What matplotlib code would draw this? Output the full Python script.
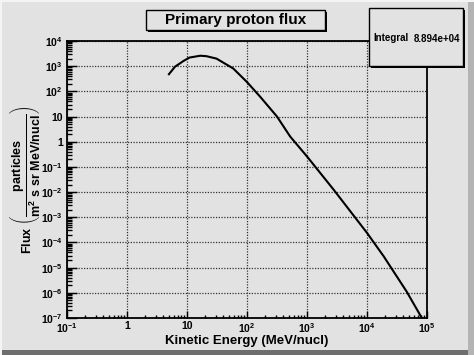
import matplotlib
matplotlib.use("Agg")
import matplotlib.pyplot as plt
from matplotlib.patches import Rectangle
from matplotlib.ticker import LogLocator, FixedLocator, NullFormatter

plt.rcParams['font.family'] = ['Liberation Sans', 'DejaVu Sans']
plt.rcParams['font.weight'] = 'bold'
plt.rcParams['mathtext.fontset'] = 'custom'
plt.rcParams['mathtext.rm'] = 'Liberation Sans:bold'
plt.rcParams['mathtext.bf'] = 'Liberation Sans:bold'
plt.rcParams['mathtext.it'] = 'Liberation Sans:bold'
plt.rcParams['mathtext.sf'] = 'Liberation Sans:bold'
plt.rcParams['mathtext.default'] = 'bf'

# data
energy = [5.0, 6.3, 8.7, 11, 16.6, 21, 31, 59, 99, 165, 316, 525, 1000, 2770,
          1.0e4, 1.9e4, 4.6e4, 8.2e4]
flux = [480, 950, 1600, 2200, 2600, 2500, 2000, 810, 240, 62, 10, 1.6, 0.26,
        0.0126, 2.4e-4, 2.8e-5, 1.1e-6, 1.0e-7]

x_ticks = [1e-1, 1, 10, 1e2, 1e3, 1e4, 1e5]
x_labels = ['10$^{-1}$', '1', '10', '10$^{2}$', '10$^{3}$', '10$^{4}$', '10$^{5}$']
y_ticks = [1e-7, 1e-6, 1e-5, 1e-4, 1e-3, 1e-2, 1e-1, 1, 10, 1e2, 1e3, 1e4]
y_labels = ['10$^{-7}$', '10$^{-6}$', '10$^{-5}$', '10$^{-4}$', '10$^{-3}$',
            '10$^{-2}$', '10$^{-1}$', '1', '10', '10$^{2}$', '10$^{3}$', '10$^{4}$']

title = 'Primary proton flux'
stat_name = 'Integral'
stat_value = '8.894e+04'

W, H = 474, 355
bg = '#e2e2e2'

fig = plt.figure(figsize=(W / 100, H / 100), dpi=100, facecolor=bg)


def fx(px):
    return px / W


def fy(py):
    return 1 - py / H


ax = fig.add_axes([fx(67), fy(318), fx(427) - fx(67), fy(41) - fy(318)])
ax.set_facecolor(bg)
ax.plot(energy, flux, color='black', lw=1.5)
ax.set_xscale('log')
ax.set_yscale('log')
ax.set_xlim(0.1, 1e5)
ax.set_ylim(1e-7, 1e4)

ax.xaxis.set_major_locator(FixedLocator(x_ticks))
ax.set_xticklabels(x_labels)
ax.yaxis.set_major_locator(FixedLocator(y_ticks))
ax.set_yticklabels(y_labels)
ax.xaxis.set_minor_locator(LogLocator(base=10, subs=range(2, 10), numticks=20))
ax.yaxis.set_minor_locator(LogLocator(base=10, subs=range(2, 10), numticks=20))
ax.xaxis.set_minor_formatter(NullFormatter())
ax.yaxis.set_minor_formatter(NullFormatter())

ax.tick_params(axis='both', which='both', direction='in', top=False, right=False,
               labelsize=7.5, width=1, color='black')
ax.tick_params(axis='x', which='major', length=5, pad=2.5)
ax.tick_params(axis='x', which='minor', length=2.5)
ax.tick_params(axis='y', which='major', length=7, pad=3)
ax.tick_params(axis='y', which='minor', length=3.5)

ax.grid(True, which='major', color='#333333', lw=0.9, ls=(0, (1, 1.2)))
for s in ax.spines.values():
    s.set_linewidth(1.3)

# axis titles
fig.text(fx(247), fy(341), 'Kinetic Energy (MeV/nucl)', ha='center', va='center',
         fontsize=9.5, fontweight='bold')
fig.text(fx(25), fy(180),
         r'Flux $\left(\dfrac{particles}{m^{2}\ s\ sr\ MeV/nucl}\right)$',
         rotation=90, ha='center', va='center', fontsize=9)

# title box with shadow
fig.add_artist(Rectangle((fx(148), fy(32)), fx(179), fy(10) - fy(30),
                         transform=fig.transFigure, facecolor='black',
                         edgecolor='none', zorder=5))
fig.add_artist(Rectangle((fx(146), fy(30)), fx(179), fy(10) - fy(30),
                         transform=fig.transFigure, facecolor=bg,
                         edgecolor='black', lw=1, zorder=6))
fig.text(fx(235.5), fy(20), title, ha='center', va='center', fontsize=11,
         fontweight='bold', zorder=7)

# stats box with shadow
fig.add_artist(Rectangle((fx(371), fy(68)), fx(94), fy(8) - fy(66),
                         transform=fig.transFigure, facecolor='black',
                         edgecolor='none', zorder=5))
fig.add_artist(Rectangle((fx(369), fy(66)), fx(94), fy(8) - fy(66),
                         transform=fig.transFigure, facecolor=bg,
                         edgecolor='black', lw=1, zorder=6))
fig.text(fx(373), fy(41), stat_name, ha='left', va='baseline', fontsize=7,
         fontweight='bold', zorder=7)
fig.text(fx(460), fy(42), stat_value, ha='right', va='baseline', fontsize=7,
         fontweight='bold', zorder=7)

# canvas bevel
fig.add_artist(Rectangle((0, 0), 1, fy(350), transform=fig.transFigure,
                         facecolor='#6e6e6e', edgecolor='none', zorder=8))
fig.add_artist(Rectangle((fx(468), 0), fx(6), 1, transform=fig.transFigure,
                         facecolor='#b4b4b4', edgecolor='none', zorder=8))
fig.add_artist(Rectangle((0, fy(2)), 1, fy(0) - fy(2), transform=fig.transFigure,
                         facecolor='#f4f4f4', edgecolor='none', zorder=8))
fig.add_artist(Rectangle((0, 0), fx(2), 1, transform=fig.transFigure,
                         facecolor='#f4f4f4', edgecolor='none', zorder=8))

fig.savefig('out.png', dpi=100, facecolor=bg)
